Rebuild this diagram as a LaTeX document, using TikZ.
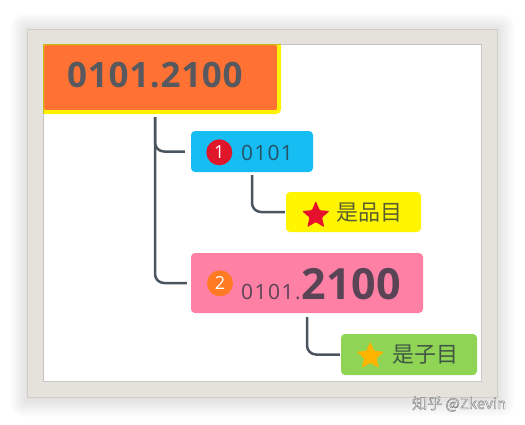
\documentclass[tikz,border=0pt]{standalone}
\usepackage{fontspec}
\setmainfont{Open Sans}
\newfontfamily\cjk{Noto Sans CJK SC}
\usetikzlibrary{shapes.geometric,calc}
\definecolor{framec}{HTML}{E4E2DA}
\definecolor{frameedge}{HTML}{CFCDC5}
\definecolor{rootor}{HTML}{FF7233}
\definecolor{rootyel}{HTML}{FFF200}
\definecolor{roottxt}{HTML}{58595E}
\definecolor{bluec}{HTML}{16BDF2}
\definecolor{yelc}{HTML}{FFF500}
\definecolor{pinkc}{HTML}{FF80A5}
\definecolor{greenc}{HTML}{8FD454}
\definecolor{redc}{HTML}{E0162B}
\definecolor{orc}{HTML}{FF7A22}
\definecolor{starred}{HTML}{E8112D}
\definecolor{staror}{HTML}{FFB400}
\definecolor{connc}{HTML}{4B5560}
\definecolor{lbltxt}{HTML}{2B3440}
\begin{document}
\begin{tikzpicture}[x=1pt,y=-1pt,
  conn/.style={draw=connc, line width=2.5pt, rounded corners=9pt},
  box/.style={rectangle, rounded corners=4pt, inner sep=0pt},
  numc/.style={circle, inner sep=0pt, minimum size=26pt, text=white, font=\fontsize{18}{18}\selectfont},
  starn/.style={star, star points=5, star point ratio=2.2, minimum size=29pt, inner sep=0pt, rounded corners=1pt},
  lbl/.style={inner sep=0pt, text=lbltxt, text opacity=0.78},
  ]
\useasboundingbox (0,0) rectangle (525,424);
% soft shadow of the frame
\foreach \i in {1,...,14}
  \fill[black, opacity=0.008, rounded corners=\i] (27-1.2*\i,29-1.2*\i+1) rectangle (497+1.3*\i,397+1.3*\i+2);
% frame and white area
\fill[framec] (27,29) rectangle (497,397);
\fill[white] (43,44) rectangle (482,382);

% root
\node[box, fill=rootor, draw=rootyel, line width=4pt, rounded corners=3pt,
      minimum width=237pt, minimum height=69pt, anchor=north west] (root) at (40,41) {};
\node[inner sep=0pt, anchor=base west, text=roottxt, font=\bfseries\fontsize{35}{35}\selectfont\addfontfeature{LetterSpace=2}] (rl) at (67,87) {0101.2100};

% first child
\node[box, fill=bluec, minimum width=122pt, minimum height=41pt] (b1) at (252,151.5) {};
\node[numc, fill=redc] (c1) at (219.3,152.3) {1};
\node[lbl, font=\fontsize{21}{21}\selectfont\addfontfeature{LetterSpace=6}, anchor=base west] (t1) at (241,160) {0101};

\node[box, fill=yelc, minimum width=135pt, minimum height=40pt] (y1) at (353.5,212) {};
\node[starn, fill=starred] (s1) at (315.8,215.5) {};
\node[lbl, font=\cjk\fontsize{22}{22}\selectfont, anchor=west] (t3) at (336,212.5) {是品目};

% second child
\node[box, fill=pinkc, minimum width=232pt, minimum height=60pt] (b2) at (307,283) {};
\node[numc, fill=orc] (c2) at (220,283.3) {2};
\node[lbl, font=\fontsize{21}{21}\selectfont\addfontfeature{LetterSpace=7}, anchor=base west] (t2a) at (241,299.3) {0101.};
\node[lbl, font=\bfseries\fontsize{43}{43}\selectfont\addfontfeature{LetterSpace=1}, anchor=base west] (t2b) at (t2a.base east) {2100};

\node[box, fill=greenc, minimum width=136pt, minimum height=41pt] (g1) at (409,354.5) {};
\node[starn, fill=staror] (s2) at (370.3,356.2) {};
\node[lbl, font=\cjk\fontsize{22}{22}\selectfont, anchor=west] (t4) at (392,355) {是子目};

% connectors
\coordinate (rx) at (155,0);
\draw[conn] ([yshift=-3pt]root.south -| rx) |- ([xshift=-6pt]b1.west);
\draw[conn] ([yshift=-3pt]root.south -| rx) |- ([xshift=-4pt]b2.west);
\draw[conn] ([yshift=-3pt]b1.south) |- ([xshift=-1pt]y1.west);
\draw[conn] ([yshift=-4pt]b2.south) |- ([xshift=-1pt]g1.west);

% frame over the contents
\fill[framec, even odd rule] (27,29) rectangle (497,397) (43,44) rectangle (482,382);
\draw[black, opacity=0.22, line width=1pt] (43.5,44.5) rectangle (481.5,381.5);
\draw[frameedge, line width=0.8pt] (27,29) rectangle (497,397);

% watermark
\node[inner sep=0pt, anchor=base west, font=\cjk\fontsize{15}{15}\selectfont] (wm) at (412,409)
  {\color{white}\special{pdf:literal direct 0.5 G 0.45 w 2 Tr}知乎 @Zkevin\special{pdf:literal direct 0 Tr}};
\end{tikzpicture}
\end{document}
